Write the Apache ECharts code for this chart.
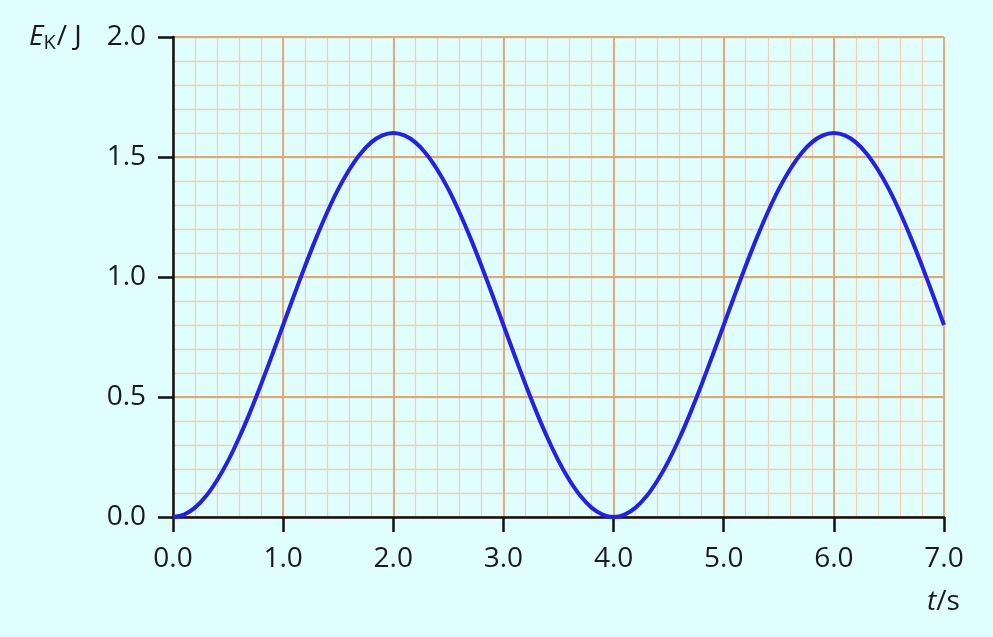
<!DOCTYPE html>
<html>
<head>
<meta charset="utf-8">
<script src="https://cdn.jsdelivr.net/npm/echarts@6/dist/echarts.min.js"></script>
<style>
html,body{margin:0;padding:0;background:#e1fefe;}
#chart{width:993px;height:637px;}
</style>
</head>
<body>
<div id="chart"></div>
<script>
// time values (s), every 0.1 s from 0 to 7
const times = [
  0.0, 0.1, 0.2, 0.3, 0.4, 0.5, 0.6, 0.7, 0.8, 0.9,
  1.0, 1.1, 1.2, 1.3, 1.4, 1.5, 1.6, 1.7, 1.8, 1.9,
  2.0, 2.1, 2.2, 2.3, 2.4, 2.5, 2.6, 2.7, 2.8, 2.9,
  3.0, 3.1, 3.2, 3.3, 3.4, 3.5, 3.6, 3.7, 3.8, 3.9,
  4.0, 4.1, 4.2, 4.3, 4.4, 4.5, 4.6, 4.7, 4.8, 4.9,
  5.0, 5.1, 5.2, 5.3, 5.4, 5.5, 5.6, 5.7, 5.8, 5.9,
  6.0, 6.1, 6.2, 6.3, 6.4, 6.5, 6.6, 6.7, 6.8, 6.9,
  7.0
];
// kinetic energy (J)
const energy = [
  0.000, 0.010, 0.039, 0.087, 0.153, 0.234, 0.330, 0.437, 0.553, 0.675,
  0.800, 0.925, 1.047, 1.163, 1.270, 1.366, 1.447, 1.513, 1.561, 1.590,
  1.600, 1.590, 1.561, 1.513, 1.447, 1.366, 1.270, 1.163, 1.047, 0.925,
  0.800, 0.675, 0.553, 0.437, 0.330, 0.234, 0.153, 0.087, 0.039, 0.010,
  0.000, 0.010, 0.039, 0.087, 0.153, 0.234, 0.330, 0.437, 0.553, 0.675,
  0.800, 0.925, 1.047, 1.163, 1.270, 1.366, 1.447, 1.513, 1.561, 1.590,
  1.600, 1.590, 1.561, 1.513, 1.447, 1.366, 1.270, 1.163, 1.047, 0.925,
  0.800
];
const xTickLabels = ['0.0','1.0','2.0','3.0','4.0','5.0','6.0','7.0'];
const yTickLabels = ['0.0','0.5','1.0','1.5','2.0'];

const FONT = 'Open Sans';
const TXT = '#1a1a1a';
const chart = echarts.init(document.getElementById('chart'));
const data = times.map((t, i) => [t, energy[i]]);

const hiddenAxisBits = {
  axisLine: {show: false}, axisTick: {show: false}, axisLabel: {show: false}
};

chart.setOption({
  backgroundColor: '#e1fefe',
  animation: false,
  grid: {left: 173, right: 49, top: 37, bottom: 120},
  xAxis: [{
    type: 'value', min: 0, max: 7, interval: 1, z: 2,
    axisLine: {show: true, onZero: false, lineStyle: {color: '#111', width: 2.5}},
    axisTick: {show: true, inside: false, length: 15, lineStyle: {color: '#111', width: 2.5}},
    axisLabel: {show: true, margin: 28, color: TXT, fontFamily: FONT, fontSize: 28,
      formatter: v => xTickLabels[Math.round(v)]},
    splitLine: {show: true, lineStyle: {color: '#dfa676', width: 1.8}}
  }, Object.assign({
    type: 'value', min: 0, max: 7, interval: 0.2, z: 0, position: 'bottom',
    splitLine: {show: true, lineStyle: {color: '#f4cfb4', width: 1.3}}
  }, hiddenAxisBits)],
  yAxis: [{
    type: 'value', min: 0, max: 2, interval: 0.5, z: 2,
    axisLine: {show: true, onZero: false, lineStyle: {color: '#111', width: 2.5}},
    axisTick: {show: true, inside: false, length: 15, lineStyle: {color: '#111', width: 2.5}},
    axisLabel: {show: true, margin: 27, color: TXT, fontFamily: FONT, fontSize: 28,
      formatter: v => yTickLabels[Math.round(v * 2)]},
    splitLine: {show: true, lineStyle: {color: '#dfa676', width: 1.8}}
  }, Object.assign({
    type: 'value', min: 0, max: 2, interval: 0.1, z: 0, position: 'left',
    splitLine: {show: true, lineStyle: {color: '#f4cfb4', width: 1.3}}
  }, hiddenAxisBits)],
  series: [{
    type: 'line',
    xAxisIndex: 0, yAxisIndex: 0,
    data: data,
    smooth: 0.3,
    showSymbol: false,
    lineStyle: {color: '#2222e0', width: 4},
    z: 5
  }],
  graphic: [
    {
      type: 'text', left: 29, top: 23,
      style: {
        text: '{e|E}{k|K}{s|/}{j| J}',
        rich: {
          e: {fontFamily: FONT, fontStyle: 'italic', fontSize: 28, fill: TXT},
          k: {fontFamily: FONT, fontSize: 20, fill: TXT, verticalAlign: 'bottom', padding: [12, 1, 0, 0]},
          s: {fontFamily: FONT, fontSize: 28, fill: TXT},
          j: {fontFamily: FONT, fontSize: 28, fill: TXT}
        }
      }
    },
    {
      type: 'text', left: 927, top: 588,
      style: {
        text: '{t|t}{s|/s}',
        rich: {
          t: {fontFamily: FONT, fontStyle: 'italic', fontSize: 28, fill: TXT},
          s: {fontFamily: FONT, fontSize: 28, fill: TXT}
        }
      }
    }
  ]
});
</script>
</body>
</html>
